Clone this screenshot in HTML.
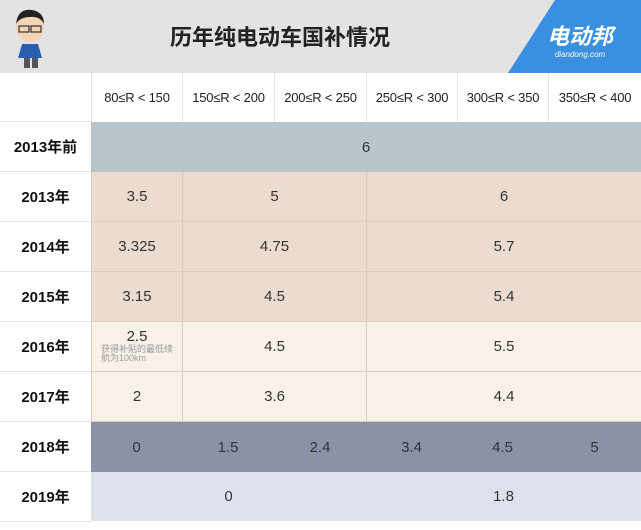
<!DOCTYPE html>
<html><head><meta charset="utf-8"><style>
body{margin:0;width:641px;height:530px;background:#fff;position:relative;overflow:hidden;font-family:"Liberation Sans","Noto Sans CJK SC",sans-serif}
.c{position:absolute;display:flex;align-items:center;justify-content:center;box-sizing:border-box;color:#333;font-size:15px}
.l{font-weight:bold;font-size:15px;color:#111;background:#fff;border-bottom:1px solid #e6e6e6}
.h{font-size:13px;color:#222;background:#fff;border-left:1px solid #e6e6e6;letter-spacing:-0.2px}
.v{border-left:1px solid #d8ccc0;border-bottom:1px solid #dccfc2}
</style></head><body>
<div style="position:absolute;left:0;top:0;width:641px;height:73px;background:#e3e3e3"></div>
<svg style="position:absolute;left:0;top:0" width="641" height="73">
<polygon points="555,0 641,0 641,73 508,73" fill="#3a8fe0"/>
<text x="580" y="44" font-family="Liberation Sans,Noto Sans CJK SC,sans-serif" font-weight="bold" font-style="italic" font-size="22" fill="#fff" text-anchor="middle">电动邦</text>
<text x="580" y="57" font-family="Liberation Sans,sans-serif" font-style="italic" font-size="8" fill="#fff" text-anchor="middle">diandong.com</text>
<circle cx="30" cy="28" r="14" fill="#f5d3b5"/>
<path d="M16 24 Q18 8 32 10 Q44 12 44 24 Q40 16 30 17 Q20 17 16 24Z" fill="#222"/>
<rect x="19" y="26" width="10" height="6" fill="none" stroke="#333" stroke-width="1.2"/>
<rect x="31" y="26" width="10" height="6" fill="none" stroke="#333" stroke-width="1.2"/>
<path d="M22 44 L38 44 L42 58 L18 58Z" fill="#2a5fb0"/>
<rect x="24" y="58" width="6" height="10" fill="#555"/><rect x="32" y="58" width="6" height="10" fill="#555"/>
</svg>
<div class="c" style="left:140px;top:18px;width:280px;height:36px;font-size:22px;font-weight:bold;color:#222">历年纯电动车国补情况</div>

<div class="c" style="left:0;top:73px;width:91px;height:49px;background:#fff;border-bottom:1px solid #e6e6e6"></div>
<div class="c h" style="left:91px;top:73px;width:91px;height:49px">80≤R &lt; 150</div>
<div class="c h" style="left:182px;top:73px;width:92px;height:49px">150≤R &lt; 200</div>
<div class="c h" style="left:274px;top:73px;width:92px;height:49px">200≤R &lt; 250</div>
<div class="c h" style="left:366px;top:73px;width:91px;height:49px">250≤R &lt; 300</div>
<div class="c h" style="left:457px;top:73px;width:91px;height:49px">300≤R &lt; 350</div>
<div class="c h" style="left:548px;top:73px;width:93px;height:49px">350≤R &lt; 400</div>

<div class="c l" style="left:0;top:122px;width:91px;height:50px">2013年前</div>
<div class="c l" style="left:0;top:172px;width:91px;height:50px">2013年</div>
<div class="c l" style="left:0;top:222px;width:91px;height:50px">2014年</div>
<div class="c l" style="left:0;top:272px;width:91px;height:50px">2015年</div>
<div class="c l" style="left:0;top:322px;width:91px;height:50px">2016年</div>
<div class="c l" style="left:0;top:372px;width:91px;height:50px">2017年</div>
<div class="c l" style="left:0;top:422px;width:91px;height:50px">2018年</div>
<div class="c l" style="left:0;top:472px;width:91px;height:50px">2019年</div>

<div class="c" style="left:91px;top:122px;width:550px;height:50px;background:#b8c5ca">6</div>

<div class="c v" style="left:91px;top:172px;width:91px;height:50px;background:#ecdccf">3.5</div>
<div class="c v" style="left:182px;top:172px;width:184px;height:50px;background:#ecdccf">5</div>
<div class="c v" style="left:366px;top:172px;width:275px;height:50px;background:#ecdccf">6</div>
<div class="c v" style="left:91px;top:222px;width:91px;height:50px;background:#ecdccf">3.325</div>
<div class="c v" style="left:182px;top:222px;width:184px;height:50px;background:#ecdccf">4.75</div>
<div class="c v" style="left:366px;top:222px;width:275px;height:50px;background:#ecdccf">5.7</div>
<div class="c v" style="left:91px;top:272px;width:91px;height:50px;background:#ecdccf">3.15</div>
<div class="c v" style="left:182px;top:272px;width:184px;height:50px;background:#ecdccf">4.5</div>
<div class="c v" style="left:366px;top:272px;width:275px;height:50px;background:#ecdccf">5.4</div>

<div class="c v" style="left:91px;top:322px;width:91px;height:50px;background:#f8f1ea;flex-direction:column;line-height:1.05"><span>2.5</span><span style="font-size:9px;color:#999">获得补贴的最低续<br>航为100km</span></div>
<div class="c v" style="left:182px;top:322px;width:184px;height:50px;background:#f8f1ea">4.5</div>
<div class="c v" style="left:366px;top:322px;width:275px;height:50px;background:#f8f1ea">5.5</div>
<div class="c v" style="left:91px;top:372px;width:91px;height:50px;background:#f8f1ea">2</div>
<div class="c v" style="left:182px;top:372px;width:184px;height:50px;background:#f8f1ea">3.6</div>
<div class="c v" style="left:366px;top:372px;width:275px;height:50px;background:#f8f1ea">4.4</div>

<div class="c" style="left:91px;top:422px;width:550px;height:50px;background:#8a91a9"></div>
<div class="c" style="left:91px;top:422px;width:91px;height:50px">0</div>
<div class="c" style="left:182px;top:422px;width:92px;height:50px">1.5</div>
<div class="c" style="left:274px;top:422px;width:92px;height:50px">2.4</div>
<div class="c" style="left:366px;top:422px;width:91px;height:50px">3.4</div>
<div class="c" style="left:457px;top:422px;width:91px;height:50px">4.5</div>
<div class="c" style="left:548px;top:422px;width:93px;height:50px">5</div>

<div class="c" style="left:91px;top:472px;width:275px;height:49px;background:#dde2ec">0</div>
<div class="c" style="left:366px;top:472px;width:275px;height:49px;background:#dde2ec">1.8</div>
</body></html>
